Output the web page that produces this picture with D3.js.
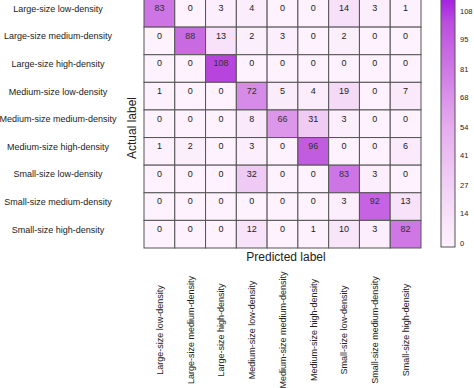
<!DOCTYPE html>
<html>
<head>
<meta charset="utf-8">
<script src="https://cdn.jsdelivr.net/npm/d3@7"></script>
<style>
  body { margin: 0; background: #fff; }
  svg text { font-family: "Liberation Sans", Arial, sans-serif; fill: #222; }
</style>
</head>
<body>
<svg id="chart" width="474" height="388"></svg>
<script>
const classes = [
    "Large-size low-density", "Large-size medium-density", "Large-size high-density",
    "Medium-size low-density", "Medium-size medium-density", "Medium-size high-density",
    "Small-size low-density", "Small-size medium-density", "Small-size high-density"
];

// rows = actual, columns = predicted
const matrix = [
    [83, 0, 3, 4, 0, 0, 14, 3, 1],
    [0, 88, 13, 2, 3, 0, 2, 0, 0],
    [0, 0, 108, 0, 0, 0, 0, 0, 0],
    [1, 0, 0, 72, 5, 4, 19, 0, 7],
    [0, 0, 0, 8, 66, 31, 3, 0, 0],
    [1, 2, 0, 3, 0, 96, 0, 0, 6],
    [0, 0, 0, 32, 0, 0, 83, 3, 0],
    [0, 0, 0, 0, 0, 0, 3, 92, 13],
    [0, 0, 0, 12, 0, 1, 10, 3, 82]
];

const colorTicks = [0, 14, 27, 41, 54, 68, 81, 95, 108];

const svg = d3.select("#chart");

let gridLeft = 144, gridRight = 421, gridTop = -0.5, gridBottom = 248;

let x = d3.scaleBand().domain(d3.range(classes.length)).range([gridLeft, gridRight]);
let y = d3.scaleBand().domain(d3.range(classes.length)).range([gridTop, gridBottom]);

let maxVal = d3.max(matrix, function(r) { return d3.max(r); });
let color = d3.scaleLinear()
    .domain([0, maxVal * 0.5, maxVal])
    .range(["#fdf2fd", "#e6aeee", "#b744dd"])
    .clamp(true);

let cells = [];
matrix.forEach(function(row, i) {
    row.forEach(function(v, j) {
        cells.push({ row: i, col: j, value: v });
    });
});

let grid = svg.append("g");
grid.selectAll("rect")
    .data(cells)
    .enter().append("rect")
    .attr("x", function(d) { return x(d.col); })
    .attr("y", function(d) { return y(d.row); })
    .attr("width", x.bandwidth())
    .attr("height", y.bandwidth())
    .attr("fill", function(d) { return color(d.value); })
    .attr("stroke", "#555")
    .attr("stroke-width", 1);

grid.selectAll("text")
    .data(cells)
    .enter().append("text")
    .attr("x", function(d) { return x(d.col) + x.bandwidth() / 2; })
    .attr("y", function(d) { return y(d.row) + y.bandwidth() / 2 - 4.5; })
    .attr("text-anchor", "middle")
    .attr("dominant-baseline", "middle")
    .style("font-size", "9px")
    .style("fill", function(d) { return d.value > 60 ? "#333" : "#222"; })
    .text(function(d) { return d.value; });

// row labels (actual)
svg.append("g").selectAll("text")
    .data(classes)
    .enter().append("text")
    .attr("x", 58)
    .attr("y", function(d, i) { return y(i) + y.bandwidth() / 2 - 4; })
    .attr("text-anchor", "middle")
    .attr("dominant-baseline", "middle")
    .style("font-size", "9px")
    .text(function(d) { return d; });

// column labels (predicted)
svg.append("g").selectAll("text")
    .data(classes)
    .enter().append("text")
    .attr("transform", function(d, i) {
        return "translate(" + (x(i) + x.bandwidth() / 2 + 1) + ",330) rotate(-90)";
    })
    .attr("text-anchor", "middle")
    .attr("dominant-baseline", "middle")
    .style("font-size", "9px")
    .text(function(d) { return d; });

svg.append("text")
    .attr("transform", "translate(133,128) rotate(-90)")
    .attr("text-anchor", "middle")
    .attr("dominant-baseline", "middle")
    .style("font-size", "12px")
    .text("Actual label");

svg.append("text")
    .attr("x", 286)
    .attr("y", 258)
    .attr("text-anchor", "middle")
    .attr("dominant-baseline", "middle")
    .style("font-size", "12px")
    .text("Predicted label");

// colorbar
let cbX = 441, cbW = 14, cbTop = -2, cbBottom = 247;
let cbScale = d3.scaleLinear().domain([0, maxVal]).range([244, 12]);

let defs = svg.append("defs");
let grad = defs.append("linearGradient")
    .attr("id", "cbgrad")
    .attr("x1", 0).attr("y1", 1).attr("x2", 0).attr("y2", 0);
d3.range(0, 1.01, 0.1).forEach(function(t) {
    let v = cbScale.invert(cbBottom + t * (cbTop - cbBottom));
    grad.append("stop")
        .attr("offset", t)
        .attr("stop-color", v > maxVal ? "#a41ee0" : color(v));
});

svg.append("rect")
    .attr("x", cbX)
    .attr("y", cbTop)
    .attr("width", cbW)
    .attr("height", cbBottom - cbTop)
    .attr("fill", "url(#cbgrad)")
    .attr("stroke", "#555")
    .attr("stroke-width", 1);

svg.append("g").selectAll("text")
    .data(colorTicks)
    .enter().append("text")
    .attr("x", 460)
    .attr("y", function(d) { return cbScale(d); })
    .attr("dominant-baseline", "middle")
    .style("font-size", "7.5px")
    .text(function(d) { return d; });
</script>
</body>
</html>
